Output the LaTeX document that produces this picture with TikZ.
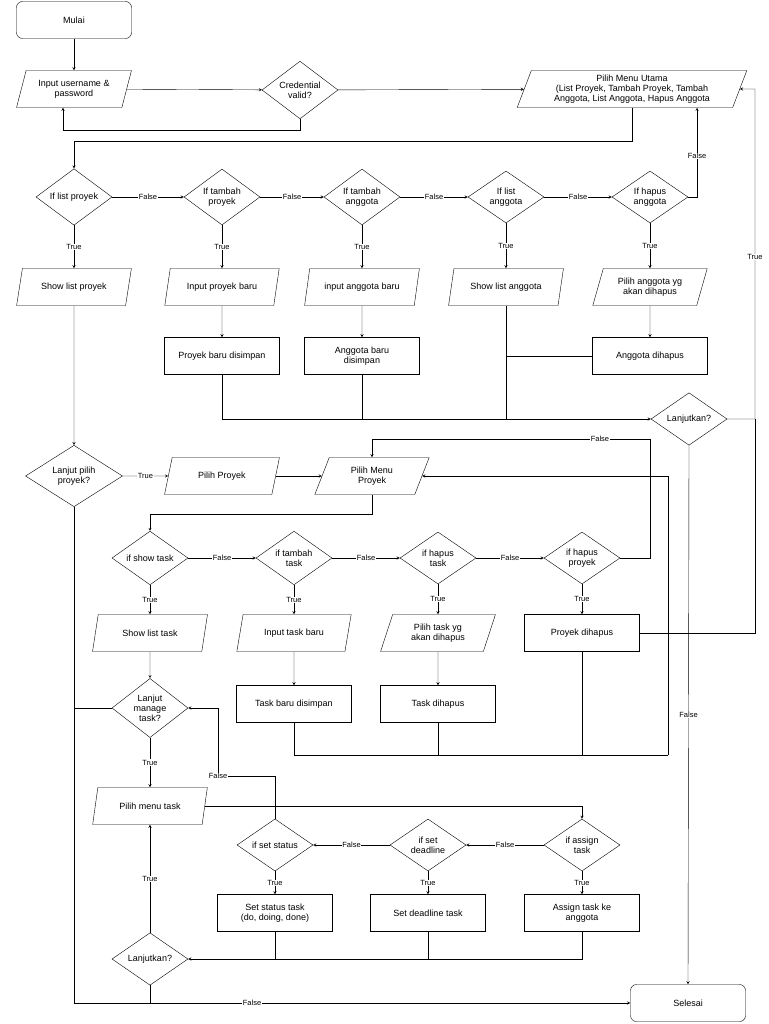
\documentclass[tikz,border=0pt]{standalone}
\usepackage{fontspec}
\setmainfont{Liberation Sans}
\usetikzlibrary{shapes.geometric,positioning}

\tikzset{
  proc/.style={draw, rectangle, minimum width=115, minimum height=37, align=center, inner sep=1},
  io/.style={draw, trapezium, trapezium left angle=70, trapezium right angle=110,
    trapezium stretches=true, minimum width=115, minimum height=37, align=center, inner sep=1},
  dec/.style={draw, diamond, minimum width=76, minimum height=52, inner sep=0, align=center},
  term/.style={draw, rounded corners=6, minimum width=115, minimum height=37},
  lbl/.style={fill=white, inner sep=0.5, font=\fontsize{7.5}{8}\selectfont}
}

\begin{document}
\begin{tikzpicture}[x=1pt,y=-1pt,>=stealth,font=\fontsize{9}{10}\selectfont]
\useasboundingbox (0,0) rectangle (768,1024);
% top part
\node [term] (mulai) at (74,20) {Mulai};
\node [io] (login) at (74,89) {Input username \&\\password};
\node [dec] (cred) at (300,90) {Credential\\valid?};
\node [io, minimum width=230] (menu) at (632,89) {Pilih Menu Utama\\(List Proyek, Tambah Proyek, Tambah\\Anggota, List Anggota, Hapus Anggota};
% menu utama
\node [dec] (lp) at (74,197) {If list proyek};
\node [dec] (tp) at (222,197) {If tambah\\proyek};
\node [dec] (ta) at (362,197) {If tambah\\anggota};
\node [dec] (la) at (506,197) {If list\\anggota};
\node [dec] (ha) at (650,197) {If hapus\\anggota};
\node [io] (slp) at (74,287) {Show list proyek};
\node [io] (ipb) at (222,287) {Input proyek baru};
\node [io] (iab) at (362,287) {input anggota baru};
\node [io] (sla) at (506,287) {Show list anggota};
\node [io] (pah) at (650,287) {Pilih anggota yg\\akan dihapus};
\node [proc] (pbd) at (222,356) {Proyek baru disimpan};
\node [proc] (abd) at (362,356) {Anggota baru\\disimpan};
\node [proc] (adh) at (650,356) {Anggota dihapus};
\node [dec] (lj1) at (689,419) {Lanjutkan?};
% menu proyek
\node [dec, minimum width=97, minimum height=56] (lpp) at (74,476) {Lanjut pilih\\proyek?};
\node [io] (pp) at (222,476) {Pilih Proyek};
\node [io] (pmp) at (372,476) {Pilih Menu\\Proyek};
\node [dec] (st) at (150,558) {if show task};
\node [dec] (tt) at (294,558) {if tambah\\task};
\node [dec] (ht) at (438,558) {if hapus\\task};
\node [dec] (hp) at (582,558) {if hapus\\proyek};
\node [io] (slt) at (150,633) {Show list task};
\node [io] (itb) at (294,633) {Input task baru};
\node [io] (pth) at (438,633) {Pilih task yg\\akan dihapus};
\node [proc] (pdh) at (582,633) {Proyek dihapus};
\node [proc] (tbd) at (294,704) {Task baru disimpan};
\node [proc] (tdh) at (438,704) {Task dihapus};
% menu task
\node [dec, minimum height=54] (lmt) at (150,708) {Lanjut\\manage\\task?};
\node [io] (pmt) at (150,806) {Pilih menu task};
\node [dec] (ss) at (275,845) {if set status};
\node [dec] (sd) at (428,845) {if set\\deadline};
\node [dec] (at) at (582,845) {if assign\\task};
\node [proc] (sst) at (275,913) {Set status task\\(do, doing, done)};
\node [proc] (sdt) at (428,913) {Set deadline task};
\node [proc] (atk) at (582,913) {Assign task ke\\anggota};
\node [dec] (lj2) at (150,959) {Lanjutkan?};
\node [term] (sel) at (688,1003) {Selesai};
% bends
\coordinate (rt) at (755,89);
\coordinate (c1) at (650,439);
\coordinate (c2) at (668,755);
\coordinate (c3) at (218,776);

% login
\draw [->] (mulai) -- (login);
\draw [->] (login) -- (cred);
\draw [->] (cred) -- (menu);
\draw [->] (cred.south) -- ++(0,11) -| ([xshift=-11]login.south);
\draw [->] (menu.south) -- ++(0,34) -| (lp.north);
% menu utama
\draw [->] (lp) -- (tp) node [lbl, midway] {False};
\draw [->] (tp) -- (ta) node [lbl, midway] {False};
\draw [->] (ta) -- (la) node [lbl, midway] {False};
\draw [->] (la) -- (ha) node [lbl, midway] {False};
\draw [->] (ha.east) -| ([xshift=65]menu.south) node [lbl, pos=0.73] {False};
\draw [->] (lp) -- (slp) node [lbl, midway] {True};
\draw [->] (tp) -- (ipb) node [lbl, midway] {True};
\draw [->] (ta) -- (iab) node [lbl, midway] {True};
\draw [->] (la) -- (sla) node [lbl, midway] {True};
\draw [->] (ha) -- (pah) node [lbl, midway] {True};
\draw [->] (ipb) -- (pbd);
\draw [->] (iab) -- (abd);
\draw [->] (pah) -- (adh);
\draw [->] (pbd.south) |- (lj1.west);
\draw (abd.south) -- (abd.south|-lj1.west);
\draw (sla.south) -- (sla.south|-lj1.west);
\draw (adh.west) -- (sla.south|-adh.west);
\draw [->] (lj1.east) -| (rt) node [lbl, pos=0.745] {True} -- (menu.east);
\draw (pdh.east) -- (rt|-pdh.east) -- (rt|-lj1.east);
\draw [->] (lj1.south) -- (sel.north) node [lbl, pos=0.5] {False};
% menu proyek
\draw [->] (slp) -- (lpp);
\draw [->] (lpp) -- (pp) node [lbl, midway] {True};
\draw [->] (pp) -- (pmp);
\draw [->] (pmp.south) -- ++(0,19) -| (st.north);
\draw [->] (st) -- (tt) node [lbl, midway] {False};
\draw [->] (tt) -- (ht) node [lbl, midway] {False};
\draw [->] (ht) -- (hp) node [lbl, midway] {False};
\draw [->] (hp.east) -| (c1) -| (pmp.north) node [lbl, pos=0.09] {False};
\draw [->] (st) -- (slt) node [lbl, midway] {True};
\draw [->] (tt) -- (itb) node [lbl, midway] {True};
\draw [->] (ht) -- (pth) node [lbl, midway] {True};
\draw [->] (hp) -- (pdh) node [lbl, midway] {True};
\draw [->] (itb) -- (tbd);
\draw [->] (pth) -- (tdh);
\draw (tbd.south) |- (c2);
\draw (tdh.south) -- (tdh.south|-c2);
\draw (pdh.south) -- (pdh.south|-c2);
\draw [->] (c2) |- (pmp.east);
% menu task
\draw [->] (slt) -- (lmt);
\draw (lmt.west) -- (lpp.south|-lmt.west);
\draw [->] (lpp.south) |- (sel.west) node [lbl, pos=0.66] {False};
\draw [->] (lmt) -- (pmt) node [lbl, midway] {True};
\draw [->] (pmt.east) -| (at.north);
\draw [->] (at) -- (sd) node [lbl, midway] {False};
\draw [->] (sd) -- (ss) node [lbl, midway] {False};
\draw [->] (ss.north) |- (c3) node [lbl] {False} -- (c3|-lmt.east) -- (lmt.east);
\draw [->] (ss) -- (sst) node [lbl, midway] {True};
\draw [->] (sd) -- (sdt) node [lbl, midway] {True};
\draw [->] (at) -- (atk) node [lbl, midway] {True};
\draw [->] (atk.south) |- (lj2.east);
\draw (sdt.south) -- (sdt.south|-lj2.east);
\draw (sst.south) -- (sst.south|-lj2.east);
\draw [->] (lj2) -- (pmt) node [lbl, midway] {True};
\draw (lj2.south) -- (lj2.south|-sel.west);
\end{tikzpicture}
\end{document}
